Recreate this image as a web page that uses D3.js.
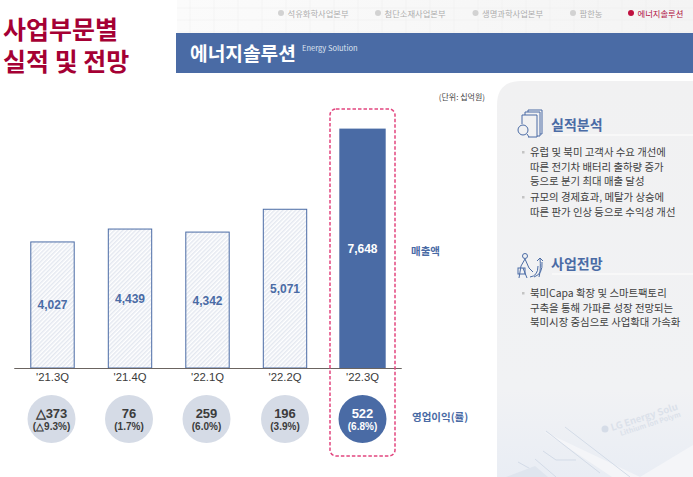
<!DOCTYPE html>
<html>
<head>
<meta charset="utf-8">
<script src="https://cdn.jsdelivr.net/npm/d3@7"></script>
<style>
html, body { margin: 0; padding: 0; background: #fff; overflow: hidden; }
svg { display: block; }
text { font-family: "Noto Sans CJK KR", sans-serif; }
.num { font-family: "Liberation Sans", Arial, sans-serif; }
</style>
</head>
<body>
<script>
// chart values
var quarters = ["'21.3Q", "'21.4Q", "'22.1Q", "'22.2Q", "'22.3Q"];
var sales = [4027, 4439, 4342, 5071, 7648];
var profit = ["△373", "76", "259", "196", "522"];
var margin = ["(△9.3%)", "(1.7%)", "(6.0%)", "(3.9%)", "(6.8%)"];
var navItems = ["석유화학사업본부", "첨단소재사업본부", "생명과학사업본부", "팜한농", "에너지솔루션"];
var analysisLines = [["유럽 및 북미 고객사 수요 개선에", "따른 전기차 배터리 출하량 증가", "등으로 분기 최대 매출 달성"],
  ["규모의 경제효과, 메탈가 상승에", "따른 판가 인상 등으로 수익성 개선"]];
var outlookLines = [["북미Capa 확장 및 스마트팩토리", "구축을 통해 가파른 성장 전망되는", "북미시장 중심으로 사업확대 가속화"]];

var width = 693,
  height = 477;
var blue = "#4a6ba5", red = "#a50034", pink = "#e2467f", dark = "#3c3c3c";

var svg = d3.select("body").append("svg")
  .attr("width", width)
  .attr("height", height);

var defs = svg.append("defs");
var hatch = defs.append("pattern")
  .attr("id", "hatch")
  .attr("width", 3).attr("height", 3)
  .attr("patternUnits", "userSpaceOnUse")
  .attr("patternTransform", "rotate(45)");
hatch.append("rect").attr("width", 3).attr("height", 3).attr("fill", "#fff");
hatch.append("rect").attr("width", 1.5).attr("height", 3).attr("fill", "#e4e8f0");

var grad = defs.append("linearGradient")
  .attr("id", "panelFade").attr("x1", 0).attr("x2", 0).attr("y1", 0).attr("y2", 1);
grad.append("stop").attr("offset", "0%").attr("stop-color", "#f1f1f2");
grad.append("stop").attr("offset", "78%").attr("stop-color", "#f1f2f4");
grad.append("stop").attr("offset", "100%").attr("stop-color", "#e9edf4");

var topGrad = defs.append("linearGradient")
  .attr("id", "topFade").attr("x1", 0).attr("x2", 1).attr("y1", 0).attr("y2", 0);
topGrad.append("stop").attr("offset", "0%").attr("stop-color", "#fbfbfb");
topGrad.append("stop").attr("offset", "100%").attr("stop-color", "#f4f4f4");

// header strip
svg.append("rect").attr("x", 177).attr("y", 0).attr("width", 516).attr("height", 33).attr("fill", "url(#topFade)");
var strip = svg.append("g").attr("stroke", "#ececec").attr("stroke-width", 0.5);
d3.range(190, 693, 24).forEach(function(gx) {
  strip.append("line").attr("x1", gx).attr("x2", gx).attr("y1", 0).attr("y2", 33);
});
d3.range(8, 33, 12).forEach(function(gy) {
  strip.append("line").attr("x1", 177).attr("x2", 693).attr("y1", gy).attr("y2", gy);
});
svg.append("rect").attr("x", 176).attr("y", 33).attr("width", 517).attr("height", 40).attr("fill", blue);

var titleLines = ["사업부문별", "실적 및 전망"];
svg.append("text")
  .attr("font-size", 25)
  .attr("font-weight", 700)
  .attr("fill", red)
  .selectAll("tspan").data(titleLines).enter().append("tspan")
  .attr("x", 3)
  .attr("y", function(d, i) { return 38.5 + i * 32; })
  .text(function(d) { return d; });

svg.append("text").attr("x", 190).attr("y", 61).attr("font-size", 19.2).attr("font-weight", 700)
  .attr("fill", "#fff").text("에너지솔루션");
svg.append("text").attr("x", 302).attr("y", 51).attr("font-size", 7.5)
  .attr("fill", "#dfe5f0").text("Energy Solution");

// nav
var navX = [281, 378, 475.5, 573, 631];
svg.selectAll(".navdot").data(navItems).enter().append("circle")
  .attr("cx", function(d, i) { return navX[i]; })
  .attr("cy", 13).attr("r", 3)
  .attr("fill", function(d, i) { return i === 4 ? "#c0103f" : "#d2d2d2"; });
svg.selectAll(".nav").data(navItems).enter().append("text")
  .attr("x", function(d, i) { return navX[i] + 6.5; })
  .attr("y", 16.5)
  .attr("font-size", 8.3)
  .attr("fill", function(d, i) { return i === 4 ? "#b0103f" : "#adadad"; })
  .text(function(d) { return d; });

svg.append("text").attr("x", 485).attr("y", 100).attr("text-anchor", "end")
  .attr("font-size", 8).attr("fill", "#444").text("(단위: 십억원)");

// side panel
svg.append("path")
  .attr("d", "M693,81H521Q497,81 497,105V477H693Z")
  .attr("fill", "url(#panelFade)");

// scales
var x = d3.scaleBand().domain(quarters).range([13.75, 401.25]).paddingInner(0.44).paddingOuter(0.22);
var y = d3.scaleLinear().domain([0, 7648]).range([368, 128.6]);
var cx = function(i) { return x(quarters[i]) + x.bandwidth() / 2; };

var bars = svg.append("g");
bars.selectAll("rect").data(sales).enter().append("rect")
  .attr("x", function(d, i) { return i === 4 ? x(quarters[i]) - 1.5 : x(quarters[i]); })
  .attr("y", function(d) { return y(d); })
  .attr("width", function(d, i) { return i === 4 ? x.bandwidth() + 3 : x.bandwidth(); })
  .attr("height", function(d) { return y(0) - y(d); })
  .attr("fill", function(d, i) { return i === 4 ? blue : "url(#hatch)"; })
  .attr("stroke", function(d, i) { return i === 4 ? "none" : blue; })
  .attr("stroke-width", 1);

bars.selectAll("text").data(sales).enter().append("text")
  .attr("class", "num")
  .attr("x", function(d, i) { return cx(i); })
  .attr("y", function(d) { return (y(d) + y(0)) / 2 + 4.5; })
  .attr("text-anchor", "middle")
  .attr("font-size", 12)
  .attr("font-weight", 700)
  .attr("fill", function(d, i) { return i === 4 ? "#fff" : blue; })
  .text(d3.format(","));

var axis = svg.append("g")
  .attr("transform", "translate(0,368)")
  .call(d3.axisBottom(x).tickSize(0).tickPadding(5));
axis.select(".domain").attr("stroke", "#6b6460").attr("stroke-width", 1.2);
axis.selectAll("text")
  .style("font-family", "'Liberation Sans', Arial, sans-serif")
  .attr("font-size", 11.3)
  .attr("fill", "#3a3a3a");

// highlight box
svg.append("rect")
  .attr("x", 330).attr("y", 109).attr("width", 65).attr("height", 347)
  .attr("rx", 6)
  .attr("fill", "none")
  .attr("stroke", pink)
  .attr("stroke-width", 1.5)
  .attr("stroke-dasharray", "3.5 2");

// profit circles
var circleX = function(i) { return i < 3 ? cx(i) - 1 : cx(i); };
var circles = svg.append("g");
circles.selectAll("circle").data(profit).enter().append("circle")
  .attr("cx", function(d, i) { return circleX(i); })
  .attr("cy", 419)
  .attr("r", 24)
  .attr("fill", function(d, i) { return i === 4 ? blue : "#d5dbe6"; });
circles.selectAll(".p").data(profit).enter().append("text")
  .attr("class", "p num")
  .attr("x", function(d, i) { return circleX(i); })
  .attr("y", 417.5)
  .attr("text-anchor", "middle")
  .attr("font-size", 13)
  .attr("font-weight", 700)
  .attr("fill", function(d, i) { return i === 4 ? "#fff" : dark; })
  .text(function(d) { return d; });
circles.selectAll(".m").data(margin).enter().append("text")
  .attr("class", "m num")
  .attr("x", function(d, i) { return circleX(i); })
  .attr("y", 430)
  .attr("text-anchor", "middle")
  .attr("font-size", 10)
  .attr("font-weight", 700)
  .attr("fill", function(d, i) { return i === 4 ? "#fff" : dark; })
  .text(function(d) { return d; });

svg.append("text").attr("x", 411).attr("y", 255).attr("font-size", 10.5).attr("font-weight", 700)
  .attr("fill", blue).text("매출액");
svg.append("text").attr("x", 412).attr("y", 421).attr("font-size", 10.5).attr("font-weight", 700)
  .attr("fill", blue).text("영업이익(률)");

// faint battery picture behind the panel bottom, cropped by the page edge like the photo
var pic = svg.append("g").attr("fill", "none").attr("stroke", "#d3dbe7").attr("stroke-width", 1);
pic.append("path").attr("d", "M543,431L612,477H693V445L640,477").attr("fill", "#f4f5f8").attr("stroke", "none");
pic.append("path").attr("d", "M546,431L600,473M565,427L630,477M543,451L556,460H576");
pic.append("path").attr("d", "M518,462L545,477M535,459L556,477M510,477H540");
pic.append("path").attr("d", "M506,477L535,466L548,477Z").attr("fill", "#dfe5ee").attr("stroke", "none");
pic.append("circle").attr("cx", 605).attr("cy", 429).attr("r", 3.5).attr("fill", "#d5dce7").attr("stroke", "none");
pic.append("text").attr("x", 612).attr("y", 431).attr("font-size", 9.5).attr("font-weight", 700)
  .attr("stroke", "none").attr("fill", "#dbe1ea")
  .attr("transform", "rotate(-18 612 431)").text("LG Energy Solu");
pic.append("text").attr("x", 621).attr("y", 436).attr("font-size", 7).attr("font-weight", 700)
  .attr("stroke", "none").attr("fill", "#dbe1ea")
  .attr("transform", "rotate(-18 621 436)").text("Lithium Ion Polym");

// panel text blocks
var section = function(title, titleY, ruleY, groups, startY) {
  svg.append("text").attr("x", 551).attr("y", titleY).attr("font-size", 14).attr("font-weight", 700)
    .attr("fill", blue).text(title);
  svg.append("line").attr("x1", 552).attr("x2", 693).attr("y1", ruleY).attr("y2", ruleY)
    .attr("stroke", "#fafafa").attr("stroke-width", 1.5);
  var yy = startY;
  groups.forEach(function(lines) {
    svg.append("rect").attr("x", 522).attr("y", yy - 5).attr("width", 2.5).attr("height", 2.5).attr("fill", "#c4c4c4");
    lines.forEach(function(t) {
      svg.append("text").attr("x", 530).attr("y", yy).attr("font-size", 10.4).attr("fill", "#3f3f3f").text(t);
      yy += 14.5;
    });
    yy += 1.5;
  });
};
section("실적분석", 130, 135, analysisLines, 156);
section("사업전망", 269, 274, outlookLines, 297);

// icons
var ic1 = svg.append("g").attr("fill", "none").attr("stroke", blue).attr("stroke-width", 1);
ic1.append("path").attr("d", "M522,124V115H537V137H528");
ic1.append("path").attr("d", "M525,115V112H540V136H537");
ic1.append("path").attr("d", "M528,112V110H542V134H540");
ic1.append("circle").attr("cx", 523).attr("cy", 130).attr("r", 5);
ic1.append("path").attr("d", "M527,134L529,137");
var ic2 = svg.append("g").attr("fill", "none").attr("stroke", blue).attr("stroke-width", 1);
ic2.append("circle").attr("cx", 525).attr("cy", 256).attr("r", 2.5);
ic2.append("path").attr("d", "M525,259L521,266L519,278M525,259L529,268L533,272M523,268L527,278");
ic2.append("rect").attr("x", 518).attr("y", 268).attr("width", 7).attr("height", 6);
ic2.append("path").attr("d", "M530,277Q538,276 538,266M534,277Q543,274 542,262M539,277Q541,270 540,258M540,258L537,261M540,258L543,261");
</script>
</body>
</html>
